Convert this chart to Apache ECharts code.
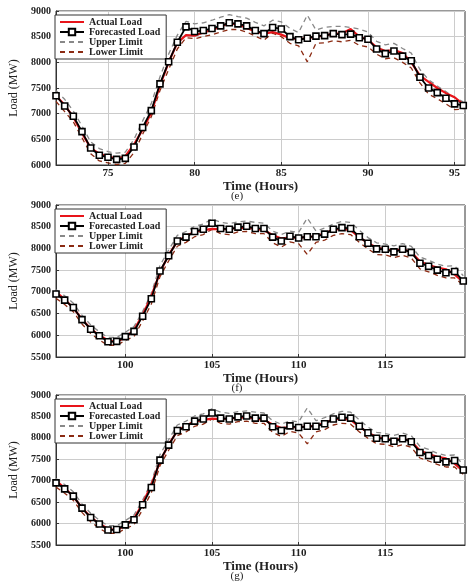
<!DOCTYPE html>
<html><head><meta charset="utf-8">
<script src="https://cdn.jsdelivr.net/npm/echarts@6/dist/echarts.min.js"></script>
<style>html,body{margin:0;padding:0;background:#fff}#c{width:474px;height:583px}</style>
</head><body><div id="c"></div>
<script>
// panel (e): hours 72 - 95.5
const hoursE = [72,72.5,73,73.5,74,74.5,75,75.5,76,76.5,77,77.5,78,78.5,79,79.5,80,80.5,81,81.5,82,82.5,83,83.5,84,84.5,85,85.5,86,86.5,87,87.5,88,88.5,89,89.5,90,90.5,91,91.5,92,92.5,93,93.5,94,94.5,95,95.5]
const actualE = [7350,7170,6930,6620,6330,6220,6170,6120,6170,6400,6690,7020,7550,8000,8380,8530,8520,8580,8630,8700,8760,8740,8670,8600,8560,8590,8540,8470,8450,8470,8500,8520,8560,8560,8650,8500,8440,8290,8220,8240,8180,8000,7740,7620,7500,7400,7320,7180]
const forecastE = [7350,7150,6950,6650,6330,6190,6150,6110,6130,6350,6730,7060,7580,8010,8390,8690,8600,8620,8660,8710,8770,8750,8710,8620,8560,8680,8650,8500,8440,8470,8510,8520,8560,8540,8550,8480,8450,8260,8170,8220,8120,8030,7710,7500,7410,7300,7190,7160]
const upperE = [7450,7280,7050,6760,6450,6320,6260,6230,6250,6500,6860,7200,7720,8160,8530,8800,8750,8770,8820,8880,8930,8890,8860,8780,8710,8820,8790,8660,8580,8920,8630,8680,8700,8700,8680,8650,8590,8410,8340,8370,8270,8180,7860,7660,7540,7430,7310,7230]
const lowerE = [7240,7040,6840,6530,6220,6080,6040,6010,6030,6240,6600,6940,7450,7860,8260,8480,8460,8500,8540,8590,8640,8640,8590,8510,8430,8570,8500,8370,8320,8010,8370,8380,8420,8400,8430,8330,8300,8160,8070,8090,8000,7890,7600,7380,7290,7190,7080,7090]
// panels (f) and (g): hours 96 - 119.5
const hoursF = [96,96.5,97,97.5,98,98.5,99,99.5,100,100.5,101,101.5,102,102.5,103,103.5,104,104.5,105,105.5,106,106.5,107,107.5,108,108.5,109,109.5,110,110.5,111,111.5,112,112.5,113,113.5,114,114.5,115,115.5,116,116.5,117,117.5,118,118.5,119,119.5]
const actualF = [7000,6830,6630,6370,6150,6000,5880,5850,5950,6120,6470,6900,7450,7850,8160,8290,8380,8420,8450,8440,8450,8470,8480,8450,8420,8310,8230,8250,8250,8260,8280,8350,8430,8450,8420,8260,8120,8020,7980,7950,7980,7920,7700,7620,7560,7520,7400,7220]
const forecastF = [6950,6810,6640,6360,6140,5990,5850,5860,5970,6090,6440,6840,7480,7830,8170,8260,8390,8440,8580,8460,8440,8490,8510,8460,8460,8260,8170,8280,8240,8270,8270,8330,8440,8480,8460,8270,8120,7990,7980,7920,7980,7910,7660,7590,7500,7440,7470,7250]
const upperF = [7050,6910,6740,6460,6240,6080,5950,5950,6070,6200,6550,6960,7610,7960,8300,8390,8510,8560,8680,8600,8570,8610,8630,8600,8580,8400,8320,8400,8370,8700,8400,8470,8560,8620,8600,8420,8250,8130,8100,8060,8110,8050,7800,7730,7640,7590,7600,7370]
const lowerF = [6850,6710,6540,6260,6040,5890,5770,5770,5880,5970,6330,6720,7350,7710,8050,8140,8270,8320,8440,8340,8320,8380,8390,8340,8340,8130,8030,8150,8110,7860,8140,8190,8300,8340,8320,8140,7990,7860,7850,7790,7840,7780,7530,7460,7380,7320,7320,7150]

const names = ['Actual Load', 'Forecasted Load', 'Upper Limit', 'Lower Limit']
const serif = 'Liberation Serif'
const panels = [
  { top: 11, h: 154, xmin: 72, xmax: 95.6, xticks: [75,80,85,90,95], ymin: 6000,
    xs: hoursE, act: actualE, fc: forecastE, up: upperE, lo: lowerE, tag: '(e)' },
  { top: 205, h: 152, xmin: 96, xmax: 119.6, xticks: [100,105,110,115], ymin: 5500,
    xs: hoursF, act: actualF, fc: forecastF, up: upperF, lo: lowerF, tag: '(f)' },
  { top: 395, h: 150, xmin: 96, xmax: 119.6, xticks: [100,105,110,115], ymin: 5500,
    xs: hoursF, act: actualF, fc: forecastF, up: upperF, lo: lowerF, tag: '(g)' }
]

const pair = (xs, ys) => xs.map((x, i) => [x, ys[i]])
const grid = [], xAxis = [], yAxis = [], series = [], legend = [], title = []
panels.forEach((p, k) => {
  grid.push({ left: 50, width: 415, top: p.top, height: p.h, show: true, borderColor: '#333', borderWidth: 1 })
  xAxis.push({
    type: 'value', gridIndex: k, min: p.xmin, max: p.xmax,
    name: 'Time (Hours)', nameLocation: 'middle', nameGap: 13,
    nameTextStyle: { fontFamily: serif, fontWeight: 'bold', fontSize: 13, color: '#222' },
    axisLine: { lineStyle: { color: '#333' } },
    axisTick: { inside: true, length: 3, customValues: p.xticks, lineStyle: { color: '#333' } },
    axisLabel: { customValues: p.xticks, fontFamily: serif, fontWeight: 'bold', fontSize: 11, color: '#222', margin: 3 },
    splitLine: { show: true, lineStyle: { color: '#ccc' } }
  })
  yAxis.push({
    type: 'value', gridIndex: k, min: p.ymin, max: 9000, interval: 500,
    name: 'Load (MW)', nameLocation: 'middle', nameGap: 36,
    nameTextStyle: { fontFamily: serif, fontSize: 12, color: '#222' },
    axisLine: { show: true, lineStyle: { color: '#333' } },
    axisTick: { inside: true, length: 3, lineStyle: { color: '#333' } },
    axisLabel: { formatter: v => String(v), fontFamily: serif, fontWeight: 'bold', fontSize: 10, color: '#222', margin: 5 },
    splitLine: { show: true, lineStyle: { color: '#ccc' } }
  })
  const base = { type: 'line', xAxisIndex: k, yAxisIndex: k, showSymbol: false, animation: false }
  series.push(
    { ...base, name: names[2], data: pair(p.xs, p.up), lineStyle: { color: '#888', width: 1.3, type: [5, 4] }, itemStyle: { color: '#888' }, z: 2 },
    { ...base, name: names[3], data: pair(p.xs, p.lo), lineStyle: { color: '#8b2a12', width: 1.3, type: [5, 4] }, itemStyle: { color: '#8b2a12' }, z: 2 },
    { ...base, name: names[0], data: pair(p.xs, p.act), lineStyle: { color: '#e8141a', width: 2.2 }, itemStyle: { color: '#e8141a' }, z: 3 },
    { ...base, name: names[1], data: pair(p.xs, p.fc), showSymbol: true, symbol: 'rect', symbolSize: 6,
      lineStyle: { color: '#000', width: 1.8 }, itemStyle: { color: '#fff', borderColor: '#000', borderWidth: 1.6 }, z: 4 }
  )
  legend.push({
    data: [{ name: names[0], itemStyle: { opacity: 0 } }, names[1], { name: names[2], itemStyle: { opacity: 0 } }, { name: names[3], itemStyle: { opacity: 0 } }],
    orient: 'vertical', left: 55, top: p.top + 4, itemGap: 0, itemWidth: 24, itemHeight: 8,
    padding: [2, 6, 2, 4], backgroundColor: '#fff', borderColor: '#333', borderWidth: 1,
    textStyle: { fontFamily: serif, fontWeight: 'bold', fontSize: 10, color: '#222' }, selectedMode: false
  })
  title.push({ text: p.tag, left: 'center', top: p.top + p.h + 21, textStyle: { fontFamily: serif, fontSize: 11, fontWeight: 'normal', color: '#222' } })
})

const chart = echarts.init(document.getElementById('c'))
chart.setOption({ backgroundColor: '#fff', animation: false, title, legend, grid, xAxis, yAxis, series })
</script></body></html>
